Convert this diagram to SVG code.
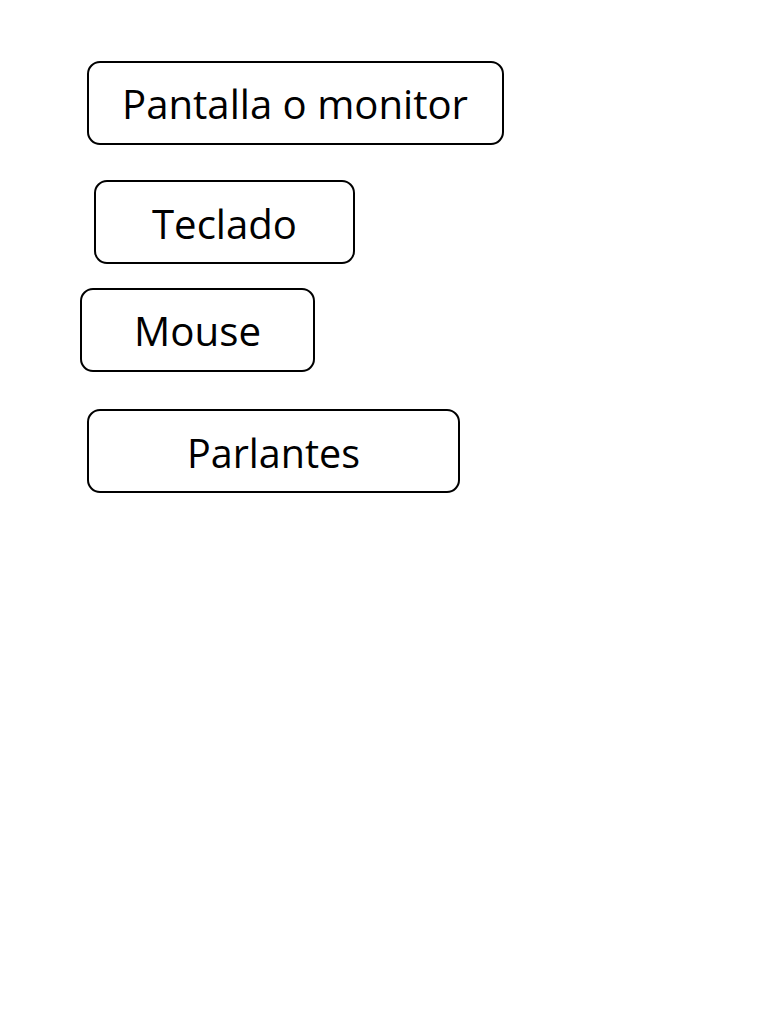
<svg xmlns="http://www.w3.org/2000/svg" width="768" height="1024" viewBox="0 0 768 1024">
<style>
.box{fill:#fff;stroke:#000;stroke-width:2}
.lbl{font-family:"Open Sans","Noto Sans",sans-serif;font-size:40px;fill:#000}
</style>
<rect width="768" height="1024" fill="#fff"/>
<g id="node-pantalla"><rect class="box" x="88" y="62" width="415" height="82" rx="12"/><text class="lbl" x="122" y="119" textLength="346" lengthAdjust="spacingAndGlyphs">Pantalla o monitor</text></g>
<g id="node-teclado"><rect class="box" x="95" y="181" width="259" height="82" rx="12"/><text class="lbl" x="152" y="239" textLength="145" lengthAdjust="spacingAndGlyphs">Teclado</text></g>
<g id="node-mouse"><rect class="box" x="81" y="289" width="233" height="82" rx="12"/><text class="lbl" x="134" y="346" textLength="127" lengthAdjust="spacingAndGlyphs">Mouse</text></g>
<g id="node-parlantes"><rect class="box" x="88" y="410" width="371" height="82" rx="12"/><text class="lbl" x="187" y="468" textLength="173" lengthAdjust="spacingAndGlyphs">Parlantes</text></g>
<g id="connectors"></g>
</svg>
